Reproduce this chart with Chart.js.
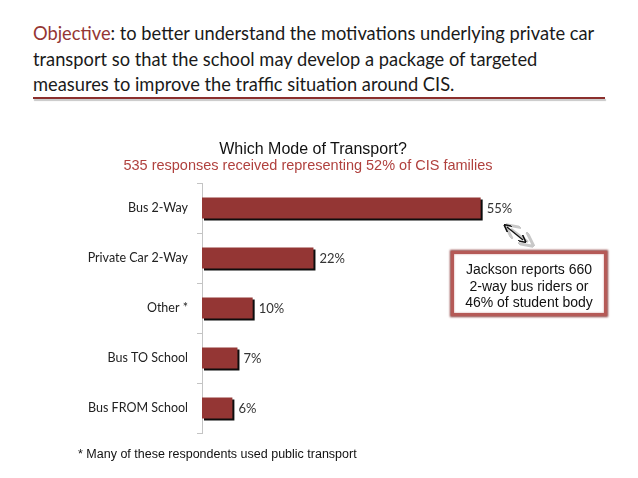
<!DOCTYPE html>
<html>
<head>
<meta charset="utf-8">
<script src="https://cdn.jsdelivr.net/npm/chart.js@4/dist/chart.umd.min.js"></script>
<style>
  html, body { margin: 0; padding: 0; background: #fff; }
  #page { position: relative; width: 638px; height: 478px; overflow: hidden; }
  #header {
    position: absolute; left: 33px; top: 21px; width: 600px; white-space: nowrap;
    font-family: Lato, "Open Sans", sans-serif; font-size: 18.3px; line-height: 25.5px; color: #1a1a1a;
  }
  #header .red { color: #943634; }
  #rule {
    position: absolute; left: 33px; top: 97px; width: 572px; height: 2px;
    background: #8b2f2d; box-shadow: 1px 2px 1px #c8c8c8;
  }
  #chartBox { position: absolute; left: 0; top: 0; width: 638px; height: 478px; }
  .ttl {
    position: absolute; left: 0; width: 638px; text-align: center;
    font-family: "Liberation Sans", Arial, sans-serif;
  }
  #title { top: 140px; font-size: 16px; color: #111; margin-left: -6px; }
  #subtitle { top: 157px; font-size: 14.5px; color: #b0413e; margin-left: -11px; }
  #note {
    position: absolute; left: 78px; top: 447px;
    font-family: "Liberation Sans", Arial, sans-serif; font-size: 12.5px; color: #111;
  }
  #callout {
    position: absolute; left: 451px; top: 251px; width: 150px; height: 52px;
    border: 3px solid #b55a57; background: #fff;
    box-shadow: 0 0 2px 1px #8a3a38, inset 0 0 2px #c98a88;
    font-family: "Liberation Sans", Arial, sans-serif; font-size: 14px; line-height: 16.5px;
    text-align: center; color: #111; padding-top: 7px; box-sizing: content-box;
  }
  #arrow { position: absolute; left: 495px; top: 218px; }
</style>
</head>
<body>
<div id="page">
  <div id="header"><span class="red">Objective</span>: to better understand the motivations underlying private car<br>transport so that the school may develop a package of targeted<br>measures to improve the traffic situation around CIS.</div>
  <div id="rule"></div>
  <div id="chartBox"><canvas id="myChart" width="638" height="478"></canvas></div>
  <div class="ttl" id="title">Which Mode of Transport?</div>
  <div class="ttl" id="subtitle">535 responses received representing 52% of CIS families</div>
  <div id="note">* Many of these respondents used public transport</div>
  <svg id="arrow" width="45" height="35" viewBox="0 0 45 35">
    <defs>
      <marker id="headK" markerWidth="6" markerHeight="6" refX="3" refY="3" orient="auto-start-reverse">
        <path d="M0,0 L6,3 L0,6" fill="none" stroke="#111" stroke-width="1.2"/>
      </marker>
      <marker id="headG" markerWidth="6" markerHeight="6" refX="3" refY="3" orient="auto-start-reverse">
        <path d="M0,0 L6,3 L0,6" fill="none" stroke="#c8c8c8" stroke-width="1.2"/>
      </marker>
    </defs>
    <line x1="16" y1="11" x2="33" y2="24" stroke="#c8c8c8" stroke-width="2.5" marker-start="url(#headG)" marker-end="url(#headG)"/>
    <line x1="12" y1="9" x2="28" y2="22" stroke="#111" stroke-width="1.3" marker-start="url(#headK)" marker-end="url(#headK)"/>
  </svg>
  <div id="callout">Jackson reports 660<br>2-way bus riders or<br>46% of student body</div>
</div>
<script>
const categories = ["Bus 2-Way", "Private Car 2-Way", "Other *", "Bus TO School", "Bus FROM School"];
const shares = [55, 22, 10, 7, 6];
const axisMax = 60;

const barRed = "#943634";

// shadow behind the bars
const barShadow = {
  id: "barShadow",
  beforeDatasetsDraw(chart) {
    const ctx = chart.ctx;
    ctx.save();
    ctx.shadowColor = "rgba(0,0,0,0.95)";
    ctx.shadowOffsetX = 2;
    ctx.shadowOffsetY = 2;
    ctx.shadowBlur = 0;
  },
  afterDatasetsDraw(chart) {
    chart.ctx.restore();
  }
};

// percentage labels at bar ends
const valueLabels = {
  id: "valueLabels",
  afterDatasetsDraw(chart) {
    const ctx = chart.ctx;
    const meta = chart.getDatasetMeta(0);
    ctx.save();
    ctx.font = "13px Lato, 'Open Sans', sans-serif";
    ctx.fillStyle = "#333";
    ctx.textBaseline = "middle";
    ctx.textAlign = "left";
    meta.data.forEach((bar, i) => {
      ctx.fillText(shares[i] + "%", bar.x + 6, bar.y + 1);
    });
    ctx.restore();
  }
};

const myChart = new Chart(document.getElementById("myChart"), {
  type: "bar",
  data: {
    labels: categories,
    datasets: [{
      data: shares,
      backgroundColor: barRed,
      borderWidth: 0,
      barPercentage: 0.42,
      categoryPercentage: 1
    }]
  },
  options: {
    indexAxis: "y",
    responsive: false,
    animation: false,
    layout: { padding: { top: 183, left: 0, right: 132, bottom: 45 } },
    scales: {
      x: { display: false, min: 0, max: axisMax },
      y: {
        afterFit(scale) { scale.width = 202; },
        border: { display: true, color: "#c4c4c4", width: 1 },
        grid: { drawOnChartArea: false, drawTicks: true, tickLength: 5, color: "#c4c4c4", offset: true },
        ticks: {
          padding: 9,
          color: "#222",
          font: { family: "Lato, 'Open Sans', sans-serif", size: 12.5 }
        }
      }
    },
    plugins: {
      legend: { display: false },
      tooltip: { enabled: false },
      title: { display: false }
    }
  },
  plugins: [barShadow, valueLabels]
});
</script>
</body>
</html>
